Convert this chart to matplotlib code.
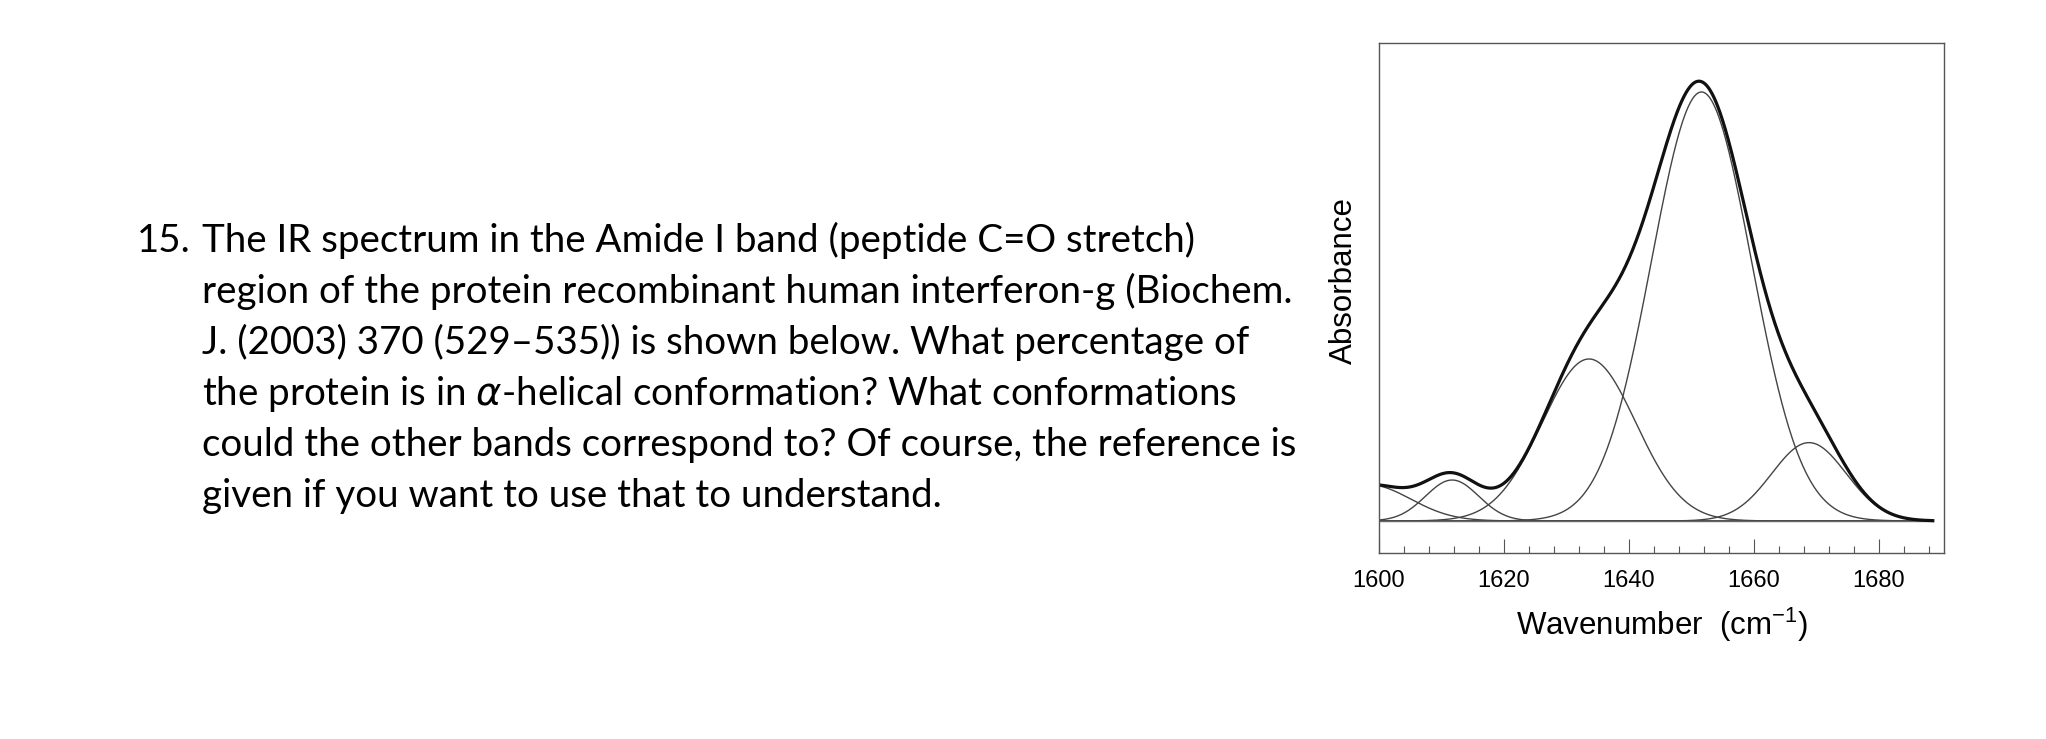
import numpy as np
import matplotlib
import matplotlib.pyplot as plt

matplotlib.use("Agg")

# fitted Amide I bands (Gaussian: centre, height, sigma)
band_centers = [1598.3, 1611.7, 1633.6, 1651.6, 1668.8]
band_heights = [0.0815, 0.092, 0.364, 0.964, 0.176]
band_sigmas = [6.75, 4.25, 7.5, 8.0, 5.95]

x_ticks = [1600, 1620, 1640, 1660, 1680]

question_lines = [
    "The IR spectrum in the Amide I band (peptide C=O stretch)",
    "region of the protein recombinant human interferon-g (Biochem.",
    "J. (2003) 370 (529\u2013535)) is shown below. What percentage of",
    "the protein is in $\\alpha$-helical conformation? What conformations",
    "could the other bands correspond to? Of course, the reference is",
    "given if you want to use that to understand.",
]

W, H = 2046, 739
fig = plt.figure(figsize=(W / 100, H / 100), dpi=100)

# question text on the left
text_font = ["Lato", "DejaVu Sans"]
texts = []
texts.append(fig.text(137 / W, 1 - 252 / H, "15.", fontsize=24,
                      family=text_font, va="baseline", ha="left"))
for i, line in enumerate(question_lines):
    yb = 252 + 51 * i
    texts.append(fig.text(202 / W, 1 - yb / H, line, fontsize=24,
                          family=text_font, va="baseline", ha="left"))

# spectrum panel
ax = fig.add_axes([1379 / W, 1 - 553 / H, (1944 - 1379) / W, (553 - 43) / H])
wn = np.linspace(1600, 1688.6, 800)
total = np.zeros_like(wn)
for c, h, s in zip(band_centers, band_heights, band_sigmas):
    band = h * np.exp(-(wn - c) ** 2 / (2 * s ** 2))
    total += band
    ax.plot(wn, band, color="#444444", lw=1.0)
ax.plot(wn, np.zeros_like(wn), color="#666666", lw=1.0)
ax.plot(wn, total, color="#111111", lw=2.3)

ax.set_xlim(1600, 1690.4)
ax.set_ylim(-0.072, 1.074)
ax.set_yticks([])
ax.set_xticks(x_ticks)
ax.set_xticks(np.arange(1600, 1689, 4), minor=True)
ax.tick_params(axis="x", which="major", direction="in", length=10, width=0.8,
               color="#555555", labelsize=17, pad=12)
ax.tick_params(axis="x", which="minor", direction="in", length=5, width=0.8,
               color="#555555")
for lab in ax.get_xticklabels():
    lab.set_family("Liberation Sans")
for sp in ax.spines.values():
    sp.set_color("#555555")
    sp.set_linewidth(1.0)

ax.set_xlabel("Wavenumber  (cm$^{\\mathregular{-1}}$)", fontsize=22.5,
              family="Liberation Sans", labelpad=10)
ax.set_ylabel("Absorbance", fontsize=22.5, family="Liberation Sans")
ax.yaxis.set_label_coords(-0.036, 0.535)

# fit the question text to the width it has in the picture
fig.canvas.draw()
rend = fig.canvas.get_renderer()
w2 = texts[2].get_window_extent(rend).width
scale = (1292 - 202) / w2
for t in texts:
    t.set_fontsize(t.get_fontsize() * scale)

fig.savefig("out.png", dpi=100)
plt.close(fig)
